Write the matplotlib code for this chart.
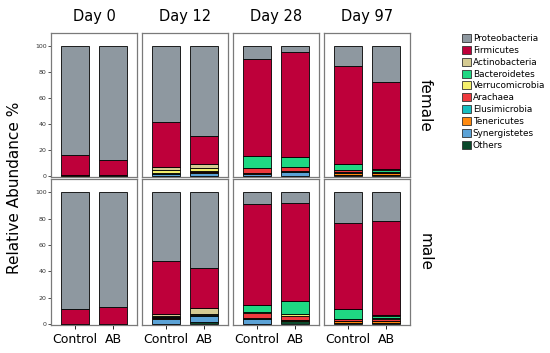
import matplotlib
matplotlib.use("Agg")
import matplotlib.pyplot as plt
from matplotlib.patches import Patch
import numpy as np

days = ["Day 0", "Day 12", "Day 28", "Day 97"]
sexes = ["female", "male"]
groups = ["Control", "AB"]
taxa = ["Proteobacteria", "Firmicutes", "Actinobacteria", "Bacteroidetes",
        "Verrucomicrobia", "Arachaea", "Elusimicrobia", "Tenericutes",
        "Synergistetes", "Others"]
colors = ["#8E98A0", "#BE003A", "#D5CB92", "#1FD883", "#F4EF6C",
          "#EE3A3E", "#16BEC0", "#FF8A10", "#5BA2D6", "#0B4A2C"]

# values per taxon (order as in taxa list), for each sex/day/group
female = {
    "Day 0":  {"Control": [83.5, 15.5, 0.1, 0.1, 0.1, 0.1, 0.1, 0.1, 0.1, 0.4],
               "AB":      [87.8, 11.7, 0.1, 0.1, 0.1, 0.1, 0.0, 0.0, 0.0, 0.2]},
    "Day 12": {"Control": [58.0, 35.0, 2.0, 0.5, 2.0, 0.3, 0.3, 0.3, 1.3, 0.3],
               "AB":      [69.0, 21.5, 3.0, 0.3, 2.5, 0.3, 0.3, 0.3, 2.5, 0.3]},
    "Day 28": {"Control": [10.3, 74.0, 0.3, 9.0, 0.3, 3.5, 0.5, 0.3, 1.3, 0.5],
               "AB":      [4.7, 80.5, 0.2, 7.5, 0.3, 3.0, 0.5, 0.3, 2.5, 0.5]},
    "Day 97": {"Control": [15.5, 75.0, 0.2, 4.5, 0.3, 1.5, 0.3, 1.5, 0.2, 1.0],
               "AB":      [28.0, 66.8, 0.2, 1.5, 0.2, 0.7, 0.3, 1.5, 0.0, 0.8]},
}
male = {
    "Day 0":  {"Control": [88.4, 11.2, 0.1, 0.1, 0.0, 0.0, 0.0, 0.0, 0.0, 0.2],
               "AB":      [87.1, 12.5, 0.1, 0.1, 0.0, 0.0, 0.0, 0.0, 0.0, 0.2]},
    "Day 12": {"Control": [52.2, 39.8, 2.0, 0.3, 0.5, 0.3, 0.3, 0.3, 3.8, 0.5],
               "AB":      [57.4, 30.2, 4.5, 0.5, 0.5, 0.3, 0.3, 0.3, 4.4, 1.6]},
    "Day 28": {"Control": [9.0, 76.4, 0.3, 5.0, 1.0, 3.5, 0.5, 0.3, 3.5, 0.5],
               "AB":      [8.3, 74.0, 0.2, 10.0, 1.0, 3.0, 0.5, 0.3, 0.2, 2.5]},
    "Day 97": {"Control": [23.0, 65.4, 0.2, 7.5, 0.2, 1.0, 0.3, 1.5, 0.2, 0.7],
               "AB":      [22.0, 71.3, 0.2, 2.0, 0.2, 1.5, 0.3, 1.5, 0.2, 0.8]},
}
data = {"female": female, "male": male}

W, H = 550, 353
fig = plt.figure(figsize=(W / 100, H / 100), dpi=100)

lefts = [51, 142, 233, 324]
width = 86
rows = {"female": (33, 177), "male": (179, 325)}
frame_col = "#7a7a7a"

def ax_at(x0, y0, x1, y1):
    return fig.add_axes([x0 / W, 1 - y1 / H, (x1 - x0) / W, (y1 - y0) / H])

xpos = np.arange(len(groups))
for r, sex in enumerate(sexes):
    y0, y1 = rows[sex]
    for c, day in enumerate(days):
        ax = ax_at(lefts[c], y0, lefts[c] + width, y1)
        vals = np.array([data[sex][day][g] for g in groups])  # (2, ntaxa)
        bottom = np.zeros(len(groups))
        for k in range(len(taxa) - 1, -1, -1):
            ax.bar(xpos, vals[:, k], bottom=bottom, width=0.76,
                   color=colors[k], edgecolor="black", linewidth=0.6)
            bottom += vals[:, k]
        ax.set_xlim(-0.63, 1.63)
        ax.set_ylim(-0.6, 110)
        for s in ax.spines.values():
            s.set_color(frame_col)
            s.set_linewidth(0.9)
        ax.set_yticks([0, 20, 40, 60, 80, 100])
        if c == 0:
            ax.tick_params(axis="y", labelsize=4.5, length=2, width=0.6,
                           pad=1, colors="#333333")
        else:
            ax.tick_params(axis="y", left=False, labelleft=False)
        ax.set_xticks(xpos)
        if r == 1:
            ax.set_xticklabels(groups, fontsize=9)
            ax.tick_params(axis="x", length=3, width=0.6, pad=3)
        else:
            ax.tick_params(axis="x", bottom=False, labelbottom=False)
        if r == 0:
            ax.set_title(day, fontsize=10.5, pad=9)

fig.text(425 / W, 1 - 105 / H, "female", rotation=-90, fontsize=11,
         ha="center", va="center")
fig.text(425 / W, 1 - 252 / H, "male", rotation=-90, fontsize=11,
         ha="center", va="center")
fig.text(15 / W, 1 - 188 / H, "Relative Abundance %", rotation=90,
         fontsize=11, ha="center", va="center")

handles = [Patch(facecolor=col, edgecolor="#333333", linewidth=0.6, label=t)
           for t, col in zip(taxa, colors)]
fig.legend(handles=handles, loc="upper left",
           bbox_to_anchor=(462 / W, 1 - 34 / H), frameon=False,
           fontsize=6.4, handlelength=1.0, handleheight=1.0,
           handletextpad=0.2, labelspacing=0.32, borderaxespad=0,
           borderpad=0)

fig.savefig("out.png", dpi=100)
